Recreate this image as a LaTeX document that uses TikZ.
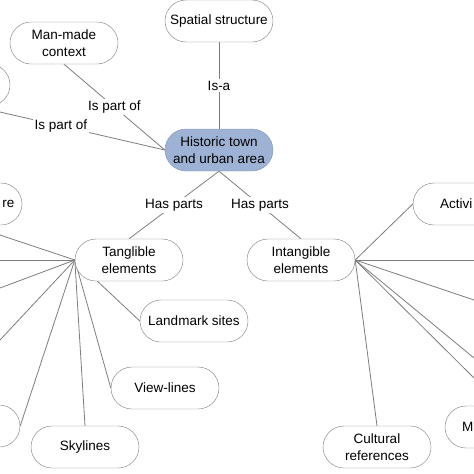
\documentclass[tikz,border=0pt]{standalone}
\usepackage{fontspec}
\setmainfont{Liberation Sans}
\usetikzlibrary{backgrounds}
\definecolor{histblue}{RGB}{157,178,212}
\definecolor{linegray}{RGB}{125,125,125}
\begin{document}
\begin{tikzpicture}[x=1pt,y=-1pt,
		concept/.style={draw=linegray,fill=white,rounded corners=21pt,minimum width=108pt,minimum height=42pt,align=center,inner sep=1pt,font=\fontsize{13.5}{16.5}\selectfont},
		rel/.style={fill=white,inner sep=1.5pt,font=\fontsize{13.5}{16.5}\selectfont},
		cut/.style={inner sep=0pt,font=\fontsize{13.5}{16.5}\selectfont},
		link/.style={draw=linegray,line width=.8pt}]
		\useasboundingbox (0,0) rectangle (474,474); \clip (0,0) rectangle (474,474);
		
		\node[concept] (spatial) at (219,21) {Spatial structure};
		\node[concept] (manmade) at (64,43) {Man-made\\context};
		\node[concept,fill=histblue,draw=histblue!85!black] (hist) at (219,150) {Historic town\\and urban area};
		\node[concept] (tang) at (129,260) {Tanglible\\elements};
		\node[concept] (intang) at (301,260) {Intangible\\elements};
		\node[concept] (landmark) at (194,321) {Landmark sites};
		\node[concept] (viewlines) at (165,388) {View-lines};
		\node[concept] (skylines) at (85,447) {Skylines};
		\node[concept] (cultural) at (377,447) {Cultural\\references};
		
		% nodes cut by the frame
		\node[concept] (natural) at (-44,85) {};
		\node[concept] (structure) at (-32,204) {}; \node[cut,anchor=east] (structtxt) at (14.5,204) {re};
		\node[concept] (leftlow) at (-34,426) {};
		\node[concept] (activ) at (467,204) {}; \node[cut,anchor=west] (activtxt) at (440,204) {Activi};
		\node[concept] (mnode) at (499,427) {}; \node[cut,anchor=east] (mtxt) at (473.5,427) {M};
		
		\coordinate (offA) at (0,112);
		\coordinate (offB) at (0,235); \coordinate (offC) at (0,260);
		\coordinate (offD) at (0,288); \coordinate (offE) at (0,340);
		\coordinate (offF) at (474,260); \coordinate (offG) at (474,300);
		\coordinate (offH) at (474,358); \coordinate (offI) at (474,378);
		
		\begin{scope}[on background layer]
		\clip (0,0) rectangle (474,474);
		\draw[link] (spatial) -- node[rel] (isa) {Is-a} (hist);
		\draw[link] (manmade.south) -- node[rel] (partA) {Is part of} (hist.west);
		\draw[link] (offA) -- node[rel,pos=.37] (partB) {Is part of} (hist.west);
		\draw[link] (hist.south) -- node[rel] (hasA) {Has parts} (tang.north);
		\draw[link] (hist.south) -- node[rel] (hasB) {Has parts} (intang.north);
		
		\foreach \t in {offB,offC,offD,offE,leftlow.east,skylines.north,viewlines.west,landmark.west}
			\draw[link] (tang.west) -- (\t);
		\foreach \t in {activ.west,offF,offG,offH,offI,cultural.north}
			\draw[link] (intang.east) -- (\t);
		\end{scope}
\end{tikzpicture}
\end{document}
